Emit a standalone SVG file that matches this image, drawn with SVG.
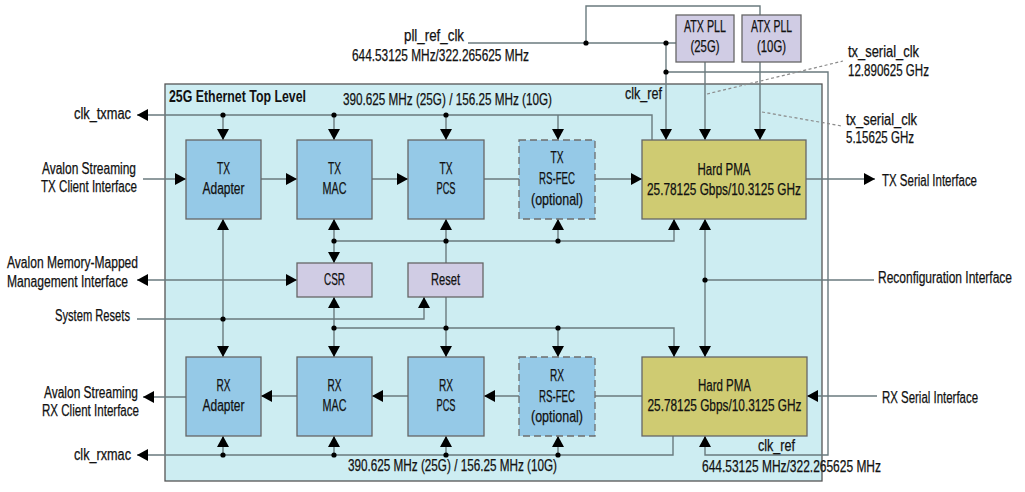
<svg xmlns="http://www.w3.org/2000/svg" width="1025" height="492" viewBox="0 0 1025 492">
<style>
text{font-family:"Liberation Sans",Arial,sans-serif;font-size:16px;fill:#111;stroke:#111;stroke-width:0.25}
.c{text-anchor:middle}
.e{text-anchor:end}
.b{font-weight:bold;stroke-width:0}
.ln{stroke:#6a7a7e;stroke-width:1.4;fill:none}
.ds{stroke:#8a8a8a;stroke-width:1.2;fill:none;stroke-dasharray:3 2.5}
.blue{fill:#95c9e7;stroke:#666;stroke-width:1.3}
.fec{fill:#95c9e7;stroke:#6e6e6e;stroke-width:1.3;stroke-dasharray:7 4}
.lav{fill:#d0cce4;stroke:#666;stroke-width:1.3}
.pma{fill:#cfcb72;stroke:#666;stroke-width:1.3}
.top{fill:#cdedf2;stroke:#555;stroke-width:1.3}
.ea{marker-end:url(#arr)}
.ba{marker-start:url(#arr);marker-end:url(#arr)}
</style>
<defs>
<marker id="arr" viewBox="0 0 11 12" refX="11" refY="6" markerWidth="11" markerHeight="12" markerUnits="userSpaceOnUse" orient="auto-start-reverse">
<path d="M0,0 L11,6 L0,12 z" fill="#000"/>
</marker>
</defs>
<g id="toplevel">
<rect class="top" x="165" y="84" width="657" height="397"/>
<text class="b" x="169" y="102" textLength="137" lengthAdjust="spacingAndGlyphs">25G Ethernet Top Level</text>
</g>
<g id="connectors">
<path class="ln" d="M468,43 H676"/>
<path class="ln" d="M586,43 V6 H760 V15"/>
<path class="ln ea" d="M666,43 V140"/>
<path class="ln ea" d="M666,72 H828 V455 H705 V436"/>
<path class="ln ea" d="M705,62 V140"/>
<path class="ln ea" d="M760,62 V140"/>
<path class="ds" d="M707,94 L843,61"/>
<path class="ds" d="M762,112 L842,126"/>
<path class="ln ea" d="M652,140 V115 H137"/>
<path class="ln ea" d="M223,115 V140"/>
<path class="ln ea" d="M334,115 V140"/>
<path class="ln ea" d="M446,115 V140"/>
<path class="ln ea" d="M558,115 V140"/>
<path class="ln ea" d="M143,179 H186"/>
<path class="ln ea" d="M261,179 H297"/>
<path class="ln ea" d="M372,179 H408"/>
<path class="ln" d="M484,179 H519"/>
<path class="ln ea" d="M595,179 H642"/>
<path class="ln ea" d="M806,179 H875"/>
<path class="ln ba" d="M223,219 V357"/>
<path class="ln ba" d="M334,219 V263"/>
<path class="ln ea" d="M334,241 H674 V219"/>
<path class="ln ea" d="M446,263 V219"/>
<path class="ln ea" d="M558,241 V219"/>
<path class="ln ba" d="M334,297 V357"/>
<path class="ln ea" d="M334,328 H674 V357"/>
<path class="ln ea" d="M446,297 V357"/>
<path class="ln ea" d="M558,328 V357"/>
<path class="ln ea" d="M137,319 H424 V297"/>
<path class="ln ba" d="M137,280 H297"/>
<path class="ln ba" d="M705,219 V357"/>
<path class="ln" d="M705,280 H874"/>
<path class="ln ea" d="M877,396 H807"/>
<path class="ln" d="M642,396 H595"/>
<path class="ln ea" d="M519,396 H484"/>
<path class="ln ea" d="M408,396 H372"/>
<path class="ln ea" d="M297,396 H261"/>
<path class="ln ea" d="M186,397 H143"/>
<path class="ln ea" d="M673,436 V455 H137"/>
<path class="ln ea" d="M223,455 V436"/>
<path class="ln ea" d="M334,455 V436"/>
<path class="ln ea" d="M446,455 V436"/>
<path class="ln ea" d="M558,455 V436"/>
<g fill="#000">
<circle cx="586" cy="43" r="2.6"/><circle cx="666" cy="43" r="2.6"/><circle cx="666" cy="72" r="2.6"/>
<circle cx="223" cy="115" r="2.6"/><circle cx="334" cy="115" r="2.6"/><circle cx="446" cy="115" r="2.6"/>
<circle cx="334" cy="241" r="2.6"/><circle cx="446" cy="241" r="2.6"/><circle cx="558" cy="241" r="2.6"/>
<circle cx="223" cy="319" r="2.6"/><circle cx="334" cy="328" r="2.6"/><circle cx="446" cy="328" r="2.6"/><circle cx="558" cy="328" r="2.6"/>
<circle cx="705" cy="280" r="2.6"/>
<circle cx="223" cy="455" r="2.6"/><circle cx="334" cy="455" r="2.6"/><circle cx="446" cy="455" r="2.6"/><circle cx="558" cy="455" r="2.6"/>
</g>
</g>
<g id="labels">
<text x="404" y="41" textLength="60" lengthAdjust="spacingAndGlyphs">pll_ref_clk</text>
<text class="e" x="529" y="61" textLength="177" lengthAdjust="spacingAndGlyphs">644.53125 MHz/322.265625 MHz</text>
<text x="625" y="99" textLength="37" lengthAdjust="spacingAndGlyphs">clk_ref</text>
<text x="343" y="105" textLength="209" lengthAdjust="spacingAndGlyphs">390.625 MHz (25G) / 156.25 MHz (10G)</text>
<text x="348" y="471" textLength="209" lengthAdjust="spacingAndGlyphs">390.625 MHz (25G) / 156.25 MHz (10G)</text>
<text x="758" y="451" textLength="37" lengthAdjust="spacingAndGlyphs">clk_ref</text>
<text x="702" y="472" textLength="179" lengthAdjust="spacingAndGlyphs">644.53125 MHz/322.265625 MHz</text>
<text class="e" x="131" y="119" textLength="57" lengthAdjust="spacingAndGlyphs">clk_txmac</text>
<text class="e" x="136" y="174" textLength="94" lengthAdjust="spacingAndGlyphs">Avalon Streaming</text>
<text class="e" x="137" y="192" textLength="96" lengthAdjust="spacingAndGlyphs">TX Client Interface</text>
<text x="7" y="268" textLength="131" lengthAdjust="spacingAndGlyphs">Avalon Memory-Mapped</text>
<text x="7" y="287" textLength="121" lengthAdjust="spacingAndGlyphs">Management Interface</text>
<text class="e" x="130" y="321" textLength="75" lengthAdjust="spacingAndGlyphs">System Resets</text>
<text class="e" x="138" y="398" textLength="94" lengthAdjust="spacingAndGlyphs">Avalon Streaming</text>
<text class="e" x="139" y="416" textLength="97" lengthAdjust="spacingAndGlyphs">RX Client Interface</text>
<text class="e" x="131" y="460" textLength="57" lengthAdjust="spacingAndGlyphs">clk_rxmac</text>
<text x="848" y="57" textLength="71" lengthAdjust="spacingAndGlyphs">tx_serial_clk</text>
<text x="848" y="76" textLength="81" lengthAdjust="spacingAndGlyphs">12.890625 GHz</text>
<text x="846" y="125" textLength="71" lengthAdjust="spacingAndGlyphs">tx_serial_clk</text>
<text x="846" y="143" textLength="68" lengthAdjust="spacingAndGlyphs">5.15625 GHz</text>
<text x="882" y="186" textLength="95" lengthAdjust="spacingAndGlyphs">TX Serial Interface</text>
<text class="e" x="1012" y="283" textLength="134" lengthAdjust="spacingAndGlyphs">Reconfiguration Interface</text>
<text x="882" y="403" textLength="96" lengthAdjust="spacingAndGlyphs">RX Serial Interface</text>
</g>
<g id="atx25">
<rect class="lav" x="676" y="15" width="58" height="47"/>
<text class="c" x="705" y="32" textLength="42" lengthAdjust="spacingAndGlyphs">ATX PLL</text>
<text class="c" x="705" y="52" textLength="29" lengthAdjust="spacingAndGlyphs">(25G)</text>
</g>
<g id="atx10">
<rect class="lav" x="742" y="15" width="59" height="47"/>
<text class="c" x="771.5" y="32" textLength="41" lengthAdjust="spacingAndGlyphs">ATX PLL</text>
<text class="c" x="771.5" y="52" textLength="29" lengthAdjust="spacingAndGlyphs">(10G)</text>
</g>
<g id="txadapter">
<rect class="blue" x="186" y="140" width="75" height="79"/>
<text class="c" x="223.5" y="174" textLength="13" lengthAdjust="spacingAndGlyphs">TX</text>
<text class="c" x="223.5" y="194" textLength="42" lengthAdjust="spacingAndGlyphs">Adapter</text>
</g>
<g id="txmac">
<rect class="blue" x="297" y="140" width="75" height="79"/>
<text class="c" x="334.5" y="174" textLength="13" lengthAdjust="spacingAndGlyphs">TX</text>
<text class="c" x="334.5" y="194" textLength="24" lengthAdjust="spacingAndGlyphs">MAC</text>
</g>
<g id="txpcs">
<rect class="blue" x="408" y="140" width="76" height="79"/>
<text class="c" x="446" y="174" textLength="13" lengthAdjust="spacingAndGlyphs">TX</text>
<text class="c" x="446" y="194" textLength="19" lengthAdjust="spacingAndGlyphs">PCS</text>
</g>
<g id="txfec">
<rect class="fec" x="519" y="140" width="76" height="79"/>
<text class="c" x="557" y="163" textLength="13" lengthAdjust="spacingAndGlyphs">TX</text>
<text class="c" x="557" y="184" textLength="36" lengthAdjust="spacingAndGlyphs">RS-FEC</text>
<text class="c" x="557" y="205" textLength="52" lengthAdjust="spacingAndGlyphs">(optional)</text>
</g>
<g id="txpma">
<rect class="pma" x="642" y="140" width="164" height="79"/>
<text class="c" x="724" y="175" textLength="53" lengthAdjust="spacingAndGlyphs">Hard PMA</text>
<text class="c" x="724" y="195" textLength="154" lengthAdjust="spacingAndGlyphs">25.78125 Gbps/10.3125 GHz</text>
</g>
<g id="csr">
<rect class="lav" x="297" y="263" width="75" height="34"/>
<text class="c" x="334.5" y="285" textLength="21" lengthAdjust="spacingAndGlyphs">CSR</text>
</g>
<g id="reset">
<rect class="lav" x="408" y="263" width="75" height="34"/>
<text class="c" x="445.5" y="285" textLength="29" lengthAdjust="spacingAndGlyphs">Reset</text>
</g>
<g id="rxadapter">
<rect class="blue" x="186" y="357" width="75" height="79"/>
<text class="c" x="223.5" y="391" textLength="14" lengthAdjust="spacingAndGlyphs">RX</text>
<text class="c" x="223.5" y="411" textLength="42" lengthAdjust="spacingAndGlyphs">Adapter</text>
</g>
<g id="rxmac">
<rect class="blue" x="297" y="357" width="75" height="79"/>
<text class="c" x="334.5" y="391" textLength="14" lengthAdjust="spacingAndGlyphs">RX</text>
<text class="c" x="334.5" y="411" textLength="24" lengthAdjust="spacingAndGlyphs">MAC</text>
</g>
<g id="rxpcs">
<rect class="blue" x="408" y="357" width="76" height="79"/>
<text class="c" x="446" y="391" textLength="14" lengthAdjust="spacingAndGlyphs">RX</text>
<text class="c" x="446" y="411" textLength="19" lengthAdjust="spacingAndGlyphs">PCS</text>
</g>
<g id="rxfec">
<rect class="fec" x="519" y="357" width="76" height="79"/>
<text class="c" x="557" y="381" textLength="14" lengthAdjust="spacingAndGlyphs">RX</text>
<text class="c" x="557" y="402" textLength="36" lengthAdjust="spacingAndGlyphs">RS-FEC</text>
<text class="c" x="557" y="422" textLength="52" lengthAdjust="spacingAndGlyphs">(optional)</text>
</g>
<g id="rxpma">
<rect class="pma" x="642" y="357" width="165" height="79"/>
<text class="c" x="724.5" y="391" textLength="53" lengthAdjust="spacingAndGlyphs">Hard PMA</text>
<text class="c" x="724.5" y="411" textLength="154" lengthAdjust="spacingAndGlyphs">25.78125 Gbps/10.3125 GHz</text>
</g>
</svg>
